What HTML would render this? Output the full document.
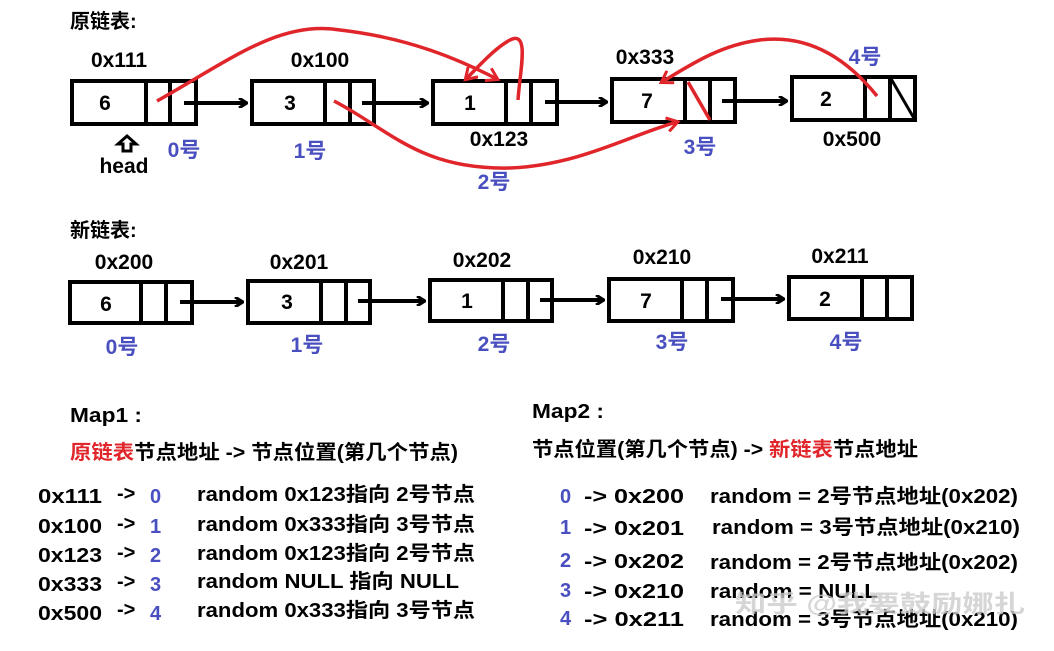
<!DOCTYPE html>
<html><head><meta charset="utf-8"><style>
body{margin:0;background:#fff;}
svg{display:block;}
text{font-family:"Liberation Sans","Noto Sans CJK SC",sans-serif;font-weight:bold;}
</style></head><body>
<svg width="1054" height="651" viewBox="0 0 1054 651" xmlns="http://www.w3.org/2000/svg">
<defs>
<marker id="ab" markerWidth="10" markerHeight="10" refX="8" refY="5" orient="auto" markerUnits="userSpaceOnUse"><path d="M1,0 L9,5 L1,10" fill="none" stroke="#000" stroke-width="3"/></marker>
<marker id="ar" markerWidth="16" markerHeight="16" refX="12" refY="8" orient="auto" markerUnits="userSpaceOnUse"><path d="M2,1 L13,8 L2,15" fill="none" stroke="#e0262b" stroke-width="3"/></marker>
</defs>
<text x="70" y="28" font-size="20">原链表:</text>
<g fill="none" stroke="#000" stroke-width="4">
<rect x="72" y="81" width="124" height="43"/><line x1="146" y1="81" x2="146" y2="124"/><line x1="170" y1="81" x2="170" y2="124"/>
<rect x="252" y="81" width="122" height="43"/><line x1="325" y1="81" x2="325" y2="124"/><line x1="350" y1="81" x2="350" y2="124"/>
<rect x="433" y="81" width="124" height="43"/><line x1="506" y1="81" x2="506" y2="124"/><line x1="531" y1="81" x2="531" y2="124"/>
<rect x="612" y="79" width="123" height="43"/><line x1="685" y1="79" x2="685" y2="122"/><line x1="710" y1="79" x2="710" y2="122"/>
<rect x="792" y="77" width="123" height="43"/><line x1="865" y1="77" x2="865" y2="120"/><line x1="890" y1="77" x2="890" y2="120"/><line x1="890" y1="77" x2="915" y2="120" stroke-width="3"/>
<line x1="184" y1="103" x2="246" y2="103" marker-end="url(#ab)"/>
<line x1="362" y1="103" x2="427" y2="103" marker-end="url(#ab)"/>
<line x1="545" y1="102" x2="606" y2="102" marker-end="url(#ab)"/>
<line x1="722" y1="101" x2="786" y2="101" marker-end="url(#ab)"/>
</g>
<g font-size="21" text-anchor="middle">
<text x="105" y="110">6</text><text x="290" y="110">3</text><text x="470" y="110">1</text><text x="647" y="108">7</text><text x="826" y="106">2</text>
<text x="119" y="67">0x111</text><text x="320" y="67">0x100</text><text x="499" y="146">0x123</text><text x="645" y="64">0x333</text><text x="852" y="146">0x500</text>
<text x="124" y="173">head</text>
</g>
<path d="M127,136 L136,144 L131,144 L131,151 L123,151 L123,144 L118,144 Z" fill="none" stroke="#000" stroke-width="3"/>
<g font-size="21" fill="#4a4fc0" text-anchor="middle">
<text x="184" y="157">0号</text><text x="310" y="158">1号</text><text x="494" y="189">2号</text><text x="700" y="154">3号</text><text x="865" y="64">4号</text>
</g>
<g fill="none" stroke="#e0262b" stroke-width="3.5">
<path d="M157,101 C230,60 280,20 340,30 C410,38 460,60 497,79" marker-end="url(#ar)"/>
<path d="M518,100 C520,70 530,30 510,40 C495,48 480,65 466,79" marker-end="url(#ar)"/>
<path d="M334,101 C390,130 420,170 510,168 C580,165 630,135 677,122" marker-end="url(#ar)"/>
<path d="M710,120 L688,82"/>
<path d="M877,96 C840,50 800,35 760,40 C720,45 690,65 662,82" marker-end="url(#ar)"/>
</g>
<text x="70" y="237" font-size="20">新链表:</text>
<g fill="none" stroke="#000" stroke-width="4">
<rect x="70" y="282" width="122" height="41"/><line x1="141" y1="282" x2="141" y2="323"/><line x1="166" y1="282" x2="166" y2="323"/>
<rect x="248" y="281" width="122" height="42"/><line x1="321" y1="281" x2="321" y2="323"/><line x1="346" y1="281" x2="346" y2="323"/>
<rect x="430" y="280" width="122" height="41"/><line x1="503" y1="280" x2="503" y2="321"/><line x1="528" y1="280" x2="528" y2="321"/>
<rect x="609" y="279" width="124" height="42"/><line x1="682" y1="279" x2="682" y2="321"/><line x1="707" y1="279" x2="707" y2="321"/>
<rect x="789" y="277" width="123" height="42"/><line x1="862" y1="277" x2="862" y2="319"/><line x1="887" y1="277" x2="887" y2="319"/>
<line x1="180" y1="302" x2="242" y2="302" marker-end="url(#ab)"/>
<line x1="358" y1="301" x2="424" y2="301" marker-end="url(#ab)"/>
<line x1="540" y1="300" x2="603" y2="300" marker-end="url(#ab)"/>
<line x1="721" y1="299" x2="783" y2="299" marker-end="url(#ab)"/>
</g>
<g font-size="21" text-anchor="middle">
<text x="106" y="311">6</text><text x="287" y="309">3</text><text x="467" y="308">1</text><text x="646" y="308">7</text><text x="825" y="306">2</text>
<text x="124" y="269">0x200</text><text x="299" y="269">0x201</text><text x="482" y="267">0x202</text><text x="662" y="264">0x210</text><text x="840" y="263">0x211</text>
</g>
<g font-size="21" fill="#4a4fc0" text-anchor="middle">
<text x="122" y="354">0号</text><text x="307" y="352">1号</text><text x="494" y="351">2号</text><text x="672" y="349">3号</text><text x="846" y="349">4号</text>
</g>
<g font-size="20" lengthAdjust="spacingAndGlyphs">
<text x="70" y="422" textLength="72" lengthAdjust="spacingAndGlyphs">Map1 :</text>
<text x="70" y="459" textLength="388" lengthAdjust="spacingAndGlyphs"><tspan fill="#e0262b">原链表</tspan>节点地址 -&gt; 节点位置(第几个节点)</text>
<text x="38" y="503" textLength="64" lengthAdjust="spacingAndGlyphs">0x111</text><text x="38" y="533" textLength="64" lengthAdjust="spacingAndGlyphs">0x100</text><text x="38" y="562" textLength="64" lengthAdjust="spacingAndGlyphs">0x123</text><text x="38" y="591" textLength="64" lengthAdjust="spacingAndGlyphs">0x333</text><text x="38" y="620" textLength="64" lengthAdjust="spacingAndGlyphs">0x500</text>
<text x="117" y="500">-&gt;</text><text x="117" y="530">-&gt;</text><text x="117" y="559">-&gt;</text><text x="117" y="588">-&gt;</text><text x="117" y="616">-&gt;</text>
<text fill="#4a4fc0" x="150" y="503">0</text><text fill="#4a4fc0" x="150" y="533">1</text><text fill="#4a4fc0" x="150" y="562">2</text><text fill="#4a4fc0" x="150" y="591">3</text><text fill="#4a4fc0" x="150" y="620">4</text>
<text x="197" y="501" textLength="278" lengthAdjust="spacingAndGlyphs">random 0x123指向 2号节点</text>
<text x="197" y="531" textLength="278" lengthAdjust="spacingAndGlyphs">random 0x333指向 3号节点</text>
<text x="197" y="560" textLength="278" lengthAdjust="spacingAndGlyphs">random 0x123指向 2号节点</text>
<text x="197" y="588" textLength="262" lengthAdjust="spacingAndGlyphs">random NULL 指向 NULL</text>
<text x="197" y="617" textLength="278" lengthAdjust="spacingAndGlyphs">random 0x333指向 3号节点</text>
<text x="532" y="418" textLength="72" lengthAdjust="spacingAndGlyphs">Map2 :</text>
<text x="532" y="456" textLength="386" lengthAdjust="spacingAndGlyphs">节点位置(第几个节点) -&gt; <tspan fill="#e0262b">新链表</tspan>节点地址</text>
<text fill="#4a4fc0" x="560" y="503">0</text><text fill="#4a4fc0" x="560" y="534">1</text><text fill="#4a4fc0" x="560" y="567">2</text><text fill="#4a4fc0" x="560" y="597">3</text><text fill="#4a4fc0" x="560" y="625">4</text>
<text x="584" y="503" textLength="100" lengthAdjust="spacingAndGlyphs">-&gt; 0x200</text><text x="584" y="535" textLength="100" lengthAdjust="spacingAndGlyphs">-&gt; 0x201</text><text x="584" y="568" textLength="100" lengthAdjust="spacingAndGlyphs">-&gt; 0x202</text><text x="584" y="598" textLength="100" lengthAdjust="spacingAndGlyphs">-&gt; 0x210</text><text x="584" y="626" textLength="100" lengthAdjust="spacingAndGlyphs">-&gt; 0x211</text>
<text x="710" y="503" textLength="308" lengthAdjust="spacingAndGlyphs">random = 2号节点地址(0x202)</text>
<text x="712" y="534" textLength="308" lengthAdjust="spacingAndGlyphs">random = 3号节点地址(0x210)</text>
<text x="710" y="569" textLength="308" lengthAdjust="spacingAndGlyphs">random = 2号节点地址(0x202)</text>
<text x="710" y="598" textLength="168" lengthAdjust="spacingAndGlyphs">random = NULL</text>
<text x="710" y="626" textLength="308" lengthAdjust="spacingAndGlyphs">random = 3号节点地址(0x210)</text>
</g>
<text x="735" y="612" font-size="24" fill="#ccc" fill-opacity="0.8" font-weight="normal" textLength="290" lengthAdjust="spacingAndGlyphs">知乎 @我要鼓励娜扎</text>
</svg>
</body></html>
